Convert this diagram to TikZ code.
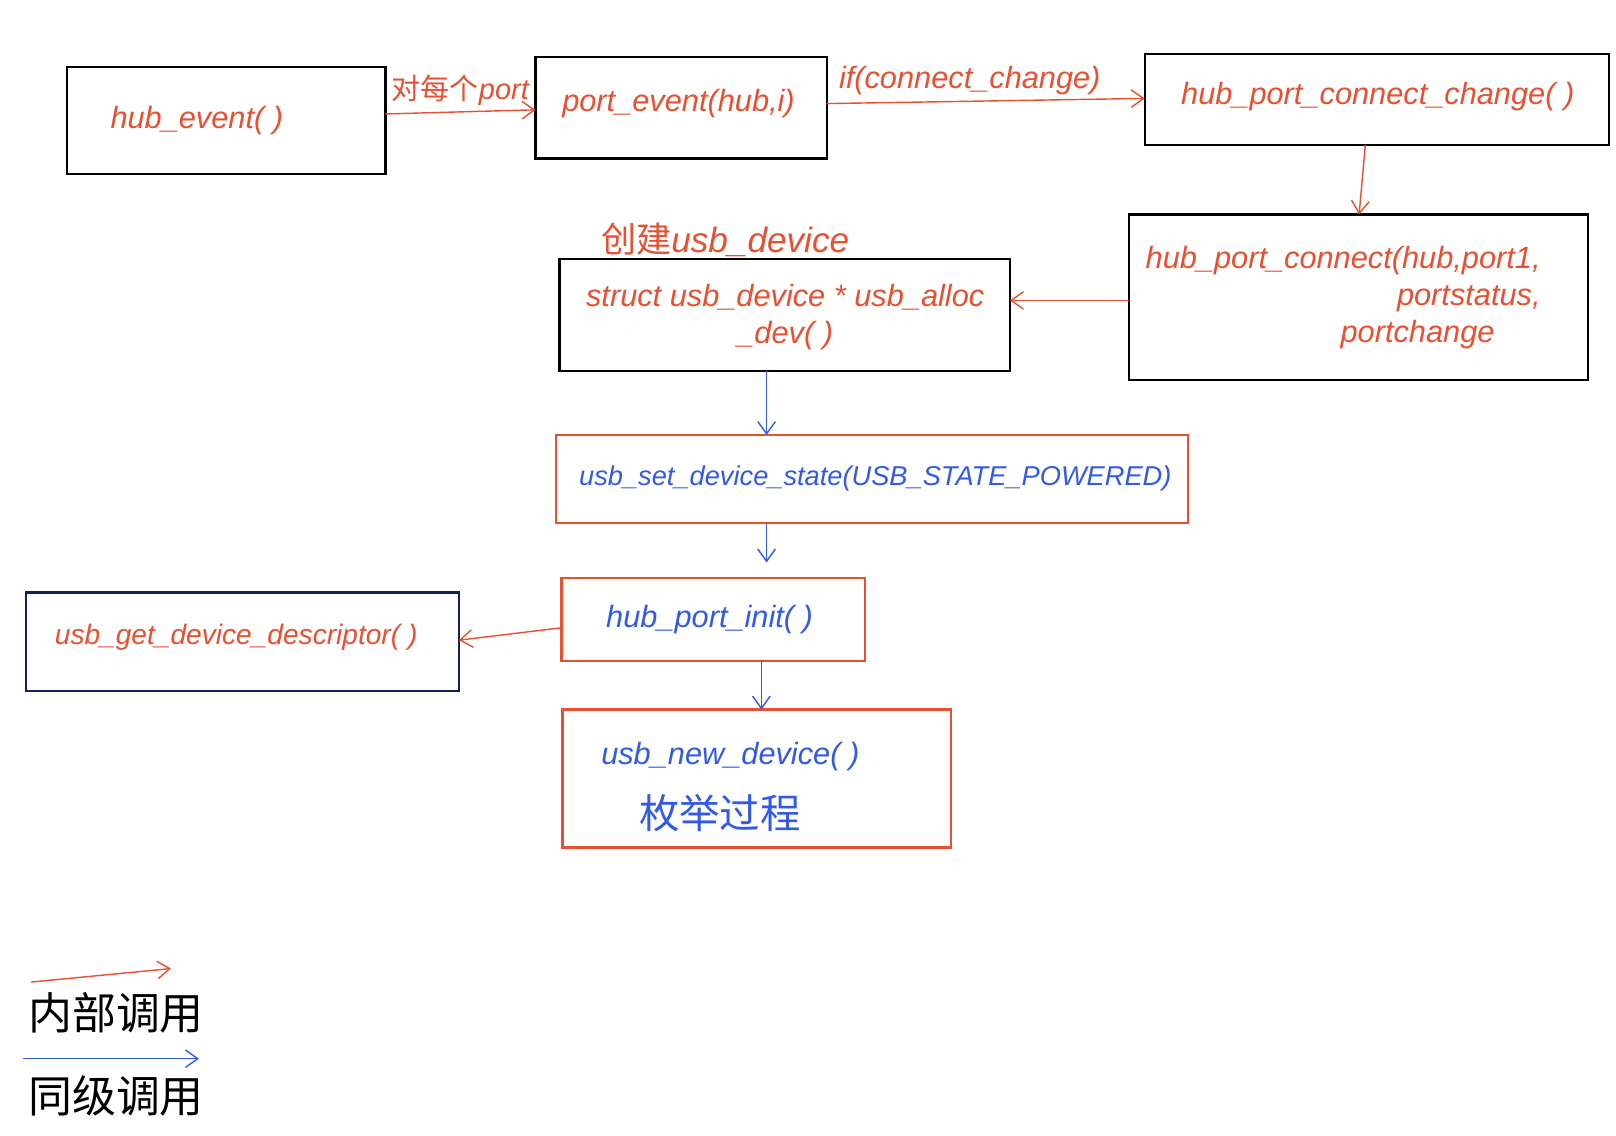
\documentclass[tikz,border=0pt]{standalone}
\usepackage{fontspec}
\setmainfont{Liberation Sans}
\newfontfamily\cjk{Noto Sans CJK SC}
\usetikzlibrary{arrows.meta}
\definecolor{pred}{RGB}{232,80,50}
\definecolor{pblue}{RGB}{50,90,230}
\definecolor{pnavy}{RGB}{20,30,90}
\begin{document}
\begin{tikzpicture}[x=0.02072cm,y=-0.02072cm,
  bx/.style={draw=black,line width=1.3pt,inner sep=0pt},
  rbx/.style={draw=pred,line width=1.3pt,inner sep=0pt},
  rt/.style={text=pred,font=\itshape\fontsize{17.5}{21}\selectfont},
  bt/.style={text=pblue,font=\itshape\fontsize{17.5}{21}\selectfont},
  ra/.style={draw=pred,line width=0.8pt,-{Straight Barb[length=7pt,width=10pt]}},
  ba/.style={draw=pblue,line width=0.8pt,-{Straight Barb[length=7pt,width=10pt]}}]
\useasboundingbox (0,0) rectangle (1560,1096.6);
\fill[white] (0,0) rectangle (1560,1096.6);
% boxes
\draw[bx] (65,65) rectangle (372,168); \node[rt] (a) at (190,116) {hub\_event( )};
\coordinate (aR) at (372,110);
\draw[bx] (517,55) rectangle (798,153); \node[rt] (b) at (655,100) {port\_event(hub,i)};
\coordinate (bL) at (517,106); \coordinate (bR) at (798,100);
\draw[bx] (1105,52) rectangle (1553,140); \node[rt] (c) at (1330,93) {hub\_port\_connect\_change( )};
\coordinate (cL) at (1105,95); \coordinate (cB) at (1318,140);
\draw[bx] (1090,207) rectangle (1533,367);
\node[rt,align=right,anchor=north west] (d) at (1100,232) {hub\_port\_connect(hub,port1,\\portstatus,\\portchange\hspace*{1.5em}};
\coordinate (dT) at (1312,207); \coordinate (dL) at (1090,290);
\draw[bx] (540,250) rectangle (975,358);
\node[rt,align=center] (e) at (758,306) {struct usb\_device * usb\_alloc\\\_dev( )};
\coordinate (eR) at (975,290); \coordinate (eB) at (740,358);
\node[text=pred,font=\cjk\fontsize{20}{24}\selectfont] (el) at (700,232) {创建{\itshape\fontspec{Liberation Sans}usb\_device}};
\draw[rbx] (537,420) rectangle (1147,505);
\node[bt,font=\itshape\fontsize{15.5}{18}\selectfont] (f) at (845,462) {usb\_set\_device\_state(USB\_STATE\_POWERED)};
\coordinate (fT) at (740,420); \coordinate (fB) at (740,505);
\draw[rbx] (542,558) rectangle (835,638);
\node[bt] (g) at (685,598) {hub\_port\_init( )};
\coordinate (gT) at (738,558); \coordinate (gB) at (735,638); \coordinate (gL) at (542,606);
\draw[draw=pnavy,line width=1.3pt] (25,572) rectangle (443,667);
\node[rt,font=\itshape\fontsize{16}{18}\selectfont] (h) at (228,615) {usb\_get\_device\_descriptor( )};
\coordinate (hR) at (443,618);
\draw[rbx] (543,685) rectangle (918,818);
\node[bt] (i1) at (705,730) {usb\_new\_device( )};
\node[text=pblue,font=\cjk\fontsize{23}{27}\selectfont] (i2) at (695,785) {枚举过程};
\coordinate (iT) at (735,685);
% arrows
\draw[ra] (aR) -- node[above,text=pred,font=\cjk\fontsize{16.5}{20}\selectfont]{对每个{\itshape\fontspec{Liberation Sans}port}} (bL);
\draw[ra] (bR) -- node[above,rt,pos=0.45]{if(connect\_change)} (cL);
\draw[ra] (cB) -- (dT);
\draw[ra] (dL) -- (eR);
\draw[ba] (eB) -- (fT);
\draw[ba] (fB) -- ++(0,38) coordinate (gT2);
\draw[ra] (gL) -- (hR);
\draw[ba] (gB) -- (iT);
% legend
\coordinate (l1a) at (30,948); \coordinate (l1b) at (165,935);
\draw[ra] (l1a) -- (l1b);
\node[font=\cjk\fontsize{25}{29}\selectfont] (l1) at (112,978) {内部调用};
\coordinate (l2a) at (22,1022); \coordinate (l2b) at (192,1022);
\draw[ba] (l2a) -- (l2b);
\node[font=\cjk\fontsize{25}{29}\selectfont] (l2) at (112,1058) {同级调用};
\end{tikzpicture}
\end{document}
